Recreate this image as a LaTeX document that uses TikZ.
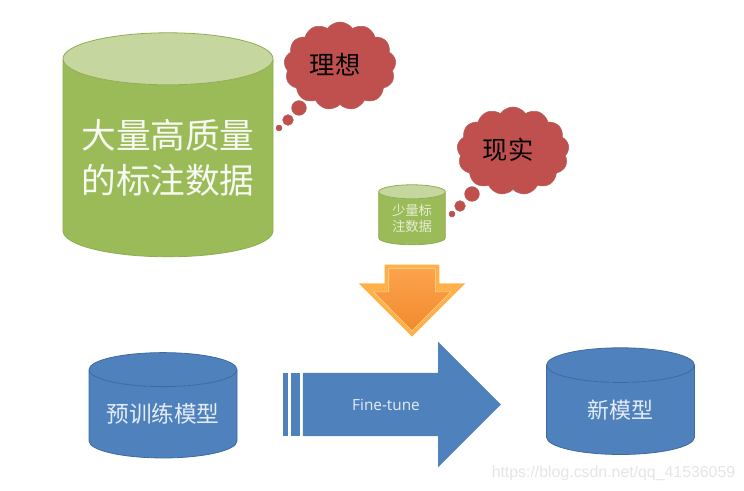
\documentclass[tikz,border=0pt]{standalone}
\usepackage{fontspec}
\newfontfamily\cjk{Noto Sans CJK SC}
\setsansfont{Open Sans}
\usetikzlibrary{shapes.geometric,shapes.symbols,shapes.arrows,positioning}
\definecolor{gfill}{HTML}{9BBB59}
\definecolor{gtop}{HTML}{C5D79E}
\definecolor{gline}{HTML}{8FAD52}
\definecolor{bfill}{HTML}{4F81BD}
\definecolor{bline}{HTML}{3F6A9E}
\definecolor{rfill}{HTML}{C0504D}
\definecolor{rline}{HTML}{B0605C}
\definecolor{oedge}{HTML}{FFB04A}
\definecolor{opale}{HTML}{FFD98C}
\definecolor{otop}{HTML}{FBA34D}
\definecolor{obot}{HTML}{F28A2E}
\tikzstyle{can} = [cylinder, shape border rotate=90, cylinder uses custom fill, draw, semithick, inner sep=0pt, align=center]
\tikzstyle{g} = [can, cylinder body fill=gfill, cylinder end fill=gtop, draw=gline]
\tikzstyle{b} = [can, cylinder body fill=bfill, cylinder end fill=bfill, draw=bline, text=white!85!bfill]
\tikzstyle{r} = [cloud, cloud puffs=13, cloud puff arc=110, aspect=1.3, fill=rfill, draw=rline, inner sep=0pt]
\tikzstyle{d} = [circle, fill=rfill, draw=rline, inner sep=0pt]
\tikzstyle{s} = [rectangle, fill=bfill, inner sep=0pt, minimum height=47.25pt]
\tikzstyle{l} = [inner sep=0pt, align=center]

\begin{document}
\begin{tikzpicture}
		[
			x=0.75pt, y=-0.75pt,
			font=\cjk,
		]
		\useasboundingbox (0,0) rectangle (744,491);
		% green cans
		\node[g, minimum width=157.5pt, minimum height=168pt, aspect=0.30, text=white!92!gfill, font=\cjk\fontsize{26}{30}\selectfont] (bigcan) at (168,158) {大量高质量\\[4pt]的标注数据};
		\node[g, minimum width=50pt, minimum height=45pt, aspect=0.35, text=white!75!gfill, font=\cjk\fontsize{10}{12}\selectfont] (smallcan) at (412,218.5) {少量标\\注数据};
		% thought clouds
		\node[r, minimum width=84pt, minimum height=66pt] (ideal) at (340,66) {};
		\node[l, font=\cjk\fontsize{19}{20}\selectfont] (idealtext) at (335,65) {理想};
		\node[r, minimum width=84pt, minimum height=66pt] (real) at (513,151) {};
		\node[l, font=\cjk\fontsize{19}{20}\selectfont] (realtext) at (508,150) {现实};
		\node[d, minimum size=11pt] (ideal1) at (299,108) {};
		\node[d, minimum size=8pt] (ideal2) at (288,120) {};
		\node[d, minimum size=4.5pt] (ideal3) at (279,128) {};
		\node[d, minimum size=11pt] (real1) at (472,194) {};
		\node[d, minimum size=8pt] (real2) at (460,206) {};
		\node[d, minimum size=4.5pt] (real3) at (452,214) {};
		% orange arrow
		\node[single arrow, shape border rotate=270, minimum width=79.5pt, minimum height=54pt, single arrow head extend=19.5pt, single arrow head indent=0pt, inner xsep=20.25pt, inner ysep=0pt, fill=oedge] (down) at (412,287) {};
		\node[single arrow, shape border rotate=270, minimum width=58pt, minimum height=46.5pt, single arrow head extend=11.6pt, single arrow head indent=0pt, inner xsep=17.25pt, inner ysep=0pt, top color=otop, bottom color=obot, draw=opale, thin] (downcore) at (412,288) {};
		% blue cans
		\node[b, minimum width=111pt, minimum height=79pt, aspect=0.30, font=\cjk\fontsize{17}{20}\selectfont] (pretrain) at (163,414) {预训练模型};
		\node[b, minimum width=111pt, minimum height=80pt, aspect=0.525, font=\cjk\fontsize{16.5}{20}\selectfont] (newmodel) at (620.5,410) {新模型};
		% fine-tune arrow
		\node[s, minimum width=3.75pt] (stripe1) at (285.5,405) {};
		\node[s, minimum width=6.75pt] (stripe2) at (295.5,405) {};
		\node[single arrow, fill=bfill, minimum width=93pt, minimum height=148.5pt, single arrow head extend=23.25pt, single arrow head indent=0pt, inner xsep=0pt, inner ysep=23.6pt] (tune) at (386,404.5) {};
		\node[font=\sffamily\fontsize{11.5}{13}\selectfont, text=white!85!bfill] (tunetext) at (386,405) {Fine-tune};
		% watermark
		\node[font=\fontspec{Liberation Sans}\fontsize{11.9}{14}\selectfont, text=black!10] (mark) at (613.5,473) {https://blog.csdn.net/qq\_41536059};
	\end{tikzpicture}
\end{document}
